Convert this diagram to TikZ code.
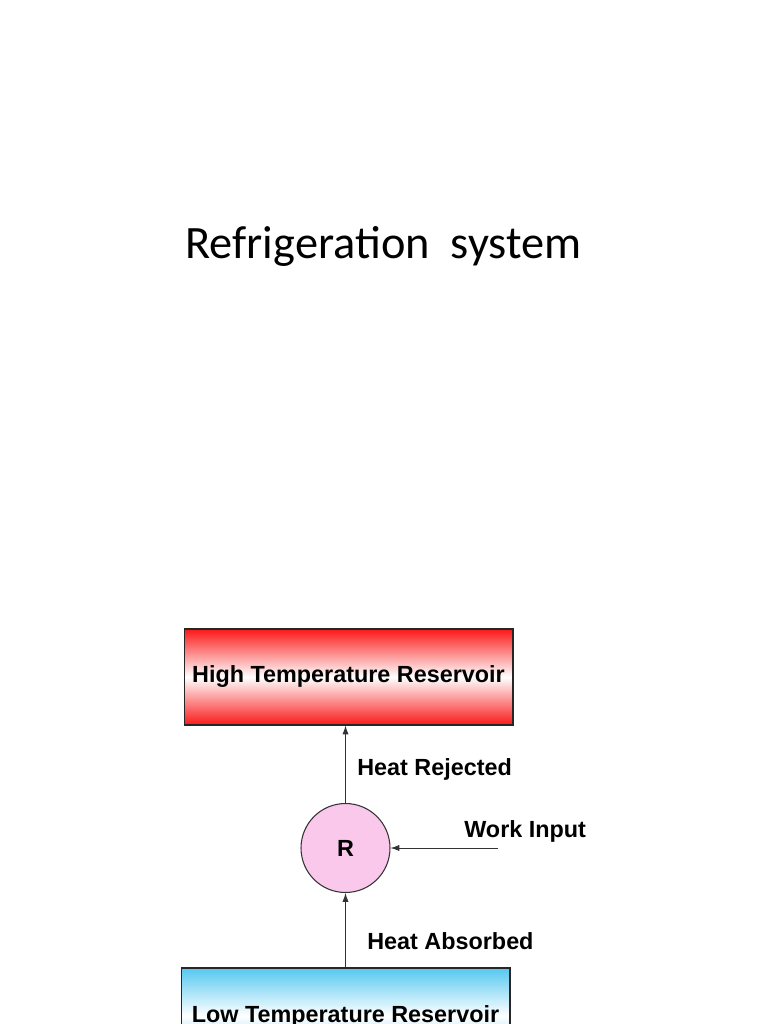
\documentclass[tikz,border=0pt]{standalone}
\usepackage{fontspec}
\setmainfont{Liberation Sans}
\newfontfamily\titlefont{Carlito}
\usepackage{tikz}
\usetikzlibrary{arrows.meta, positioning}

\definecolor{hotred}{RGB}{250,25,25}
\definecolor{coldblue}{RGB}{85,200,240}
\definecolor{rpink}{RGB}{250,200,235}

\begin{document}
\begin{tikzpicture}[
  x=0.02cm, y=-0.02cm,
  reservoir/.style={rectangle, draw=black!85, line width=0.6pt, minimum width=6.58cm, minimum height=1.92cm, font=\fontsize{13.3}{15}\selectfont\bfseries},
  machine/.style={circle, draw=black!80, line width=0.6pt, fill=rpink, minimum size=1.78cm, inner sep=0pt, font=\fontsize{13.3}{15}\selectfont\bfseries},
  lbl/.style={inner sep=0pt, anchor=base west, font=\fontsize{13.3}{15}\selectfont\bfseries},
  arr/.style={-{Latex[length=5pt, width=3.5pt]}, line width=0.5pt, black!80}
]
\useasboundingbox (0,0) rectangle (768,1024);
\clip (0,0) rectangle (768,1024);

\node[font=\titlefont\fontsize{26.4}{30}\selectfont, anchor=base] (title) at (383.5,258) {Refrigeration\ \ system};

\node[machine] (r) at (345.5,848) {R};
\node[reservoir, top color=hotred, bottom color=hotred, middle color=white] (high) at (348.5,677) {High Temperature Reservoir};
\node[reservoir, top color=coldblue, bottom color=coldblue, middle color=white] (low) at (345.5,1016) {Low Temperature Reservoir};
\coordinate (workin) at (498,848);

\draw[arr] (r.north) -- (r.north |- high.south);
\draw[arr] (low.north) -- (r.south);
\draw[arr] (workin) -- (r.east);

\node[lbl] (rejected) at (357,775) {Heat Rejected};
\node[lbl] (work) at (464,837) {Work Input};
\node[lbl] (absorbed) at (367,949) {Heat Absorbed};
\end{tikzpicture}
\end{document}
